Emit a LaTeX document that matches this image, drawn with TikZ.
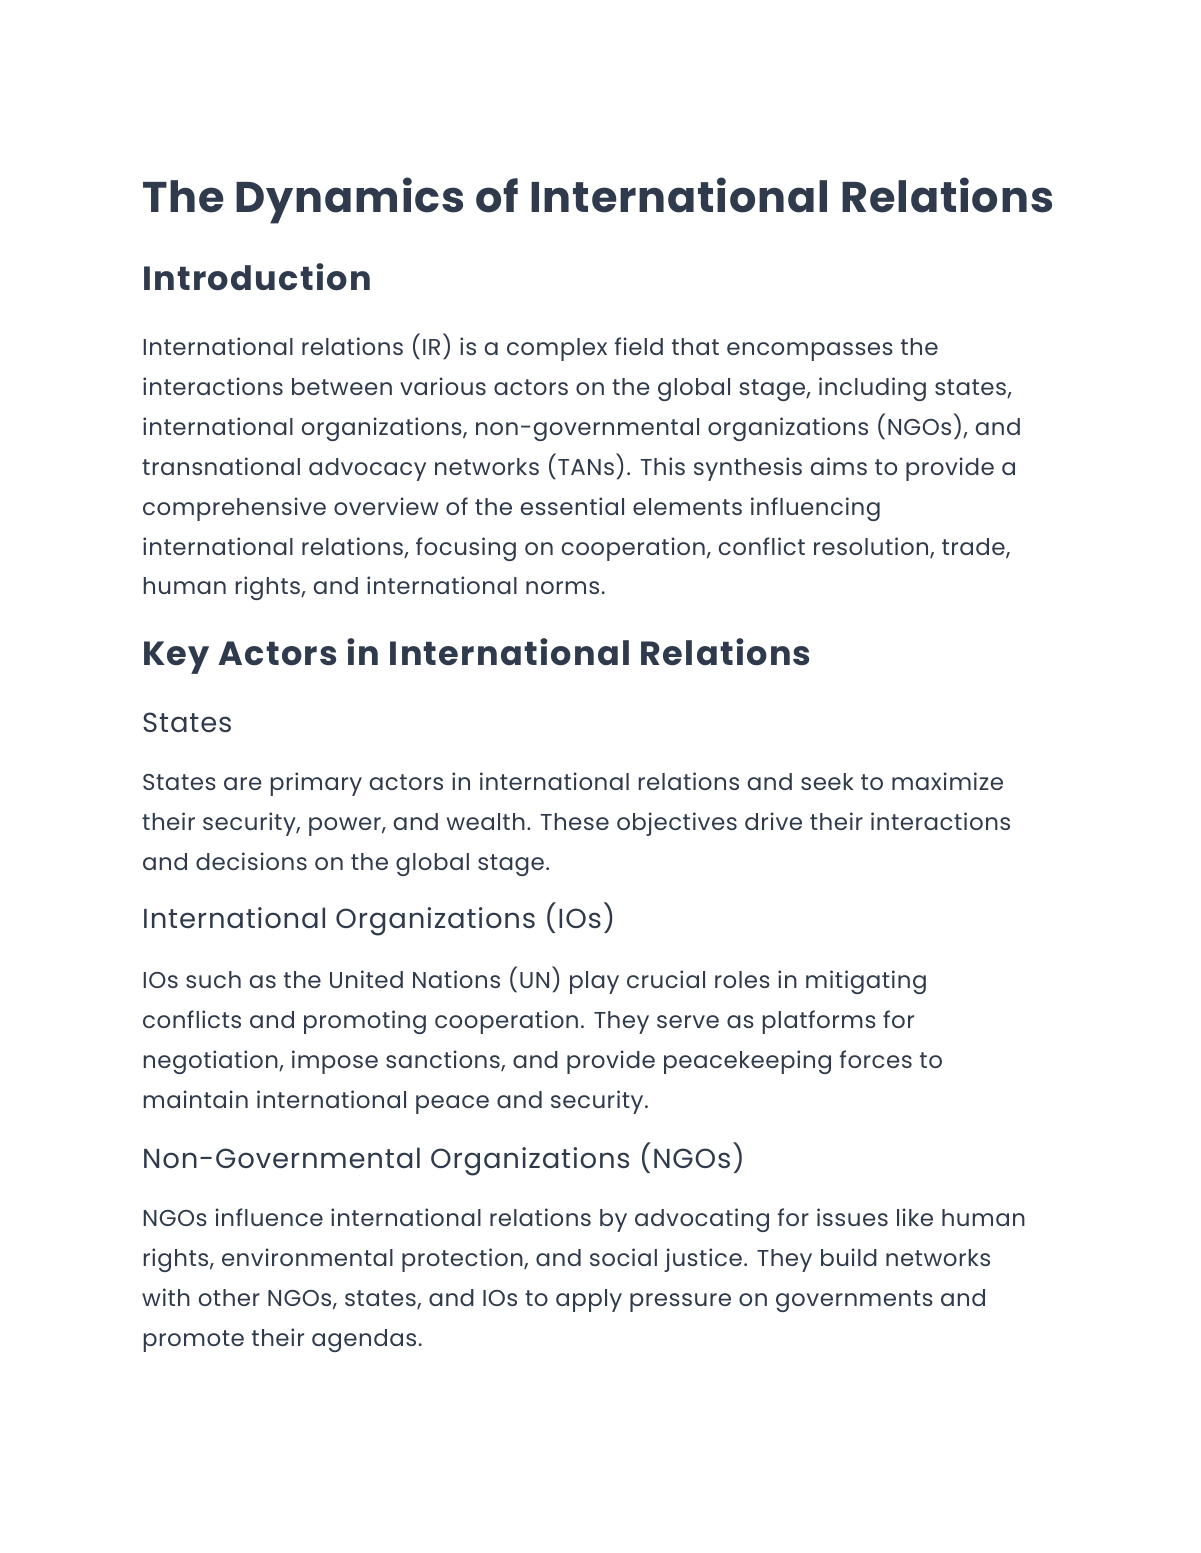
\documentclass[tikz,border=0pt]{standalone}
\usepackage{fontspec}
\setmainfont{Poppins}
\definecolor{ink}{HTML}{2F3B4C}
\begin{document}
\begin{tikzpicture}[x=1pt,y=-1pt,
  body/.style={anchor=base west,inner sep=0pt,text=ink,font=\fontsize{23}{26}\selectfont\addfontfeatures{LetterSpace=2}},
  hone/.style={anchor=base west,inner sep=0pt,text=ink,font=\fontsize{43}{46}\selectfont\bfseries\addfontfeatures{LetterSpace=2}},
  htwo/.style={anchor=base west,inner sep=0pt,text=ink,font=\fontsize{33.5}{36}\selectfont\bfseries\addfontfeatures{LetterSpace=4}},
  hthree/.style={anchor=base west,inner sep=0pt,text=ink,font=\fontsize{27.5}{30}\selectfont\addfontfeatures{LetterSpace=3}}]
\useasboundingbox (0,0) rectangle (1200,1553);
\node[hone] (t) at (142,212) {The Dynamics of International Relations};
\node[htwo] (i) at (142,290) {Introduction};
\node[body] (b1) at (142,355) {International relations (IR) is a complex field that encompasses the};
\node[body] (b2) at (142,395) {interactions between various actors on the global stage, including states,};
\node[body] (b3) at (142,435) {international organizations, non-governmental organizations (NGOs), and};
\node[body] (b4) at (142,475) {transnational advocacy networks (TANs). This synthesis aims to provide a};
\node[body] (b5) at (142,515) {comprehensive overview of the essential elements influencing};
\node[body] (b6) at (142,555) {international relations, focusing on cooperation, conflict resolution, trade,};
\node[body] (b7) at (142,594) {human rights, and international norms.};
\node[htwo] (k) at (142,665) {Key Actors in International Relations};
\node[hthree] (s) at (142,732) {States};
\node[body] (s1) at (142,790) {States are primary actors in international relations and seek to maximize};
\node[body] (s2) at (142,830) {their security, power, and wealth. These objectives drive their interactions};
\node[body] (s3) at (142,870) {and decisions on the global stage.};
\node[hthree] (io) at (142,928) {International Organizations (IOs)};
\node[body] (i1) at (142,988) {IOs such as the United Nations (UN) play crucial roles in mitigating};
\node[body] (i2) at (142,1028) {conflicts and promoting cooperation. They serve as platforms for};
\node[body] (i3) at (142,1068) {negotiation, impose sanctions, and provide peacekeeping forces to};
\node[body] (i4) at (142,1108) {maintain international peace and security.};
\node[hthree] (n) at (142,1168) {Non-Governmental Organizations (NGOs)};
\node[body] (n1) at (142,1226) {NGOs influence international relations by advocating for issues like human};
\node[body] (n2) at (142,1266) {rights, environmental protection, and social justice. They build networks};
\node[body] (n3) at (142,1306) {with other NGOs, states, and IOs to apply pressure on governments and};
\node[body] (n4) at (142,1346) {promote their agendas.};
\end{tikzpicture}
\end{document}
